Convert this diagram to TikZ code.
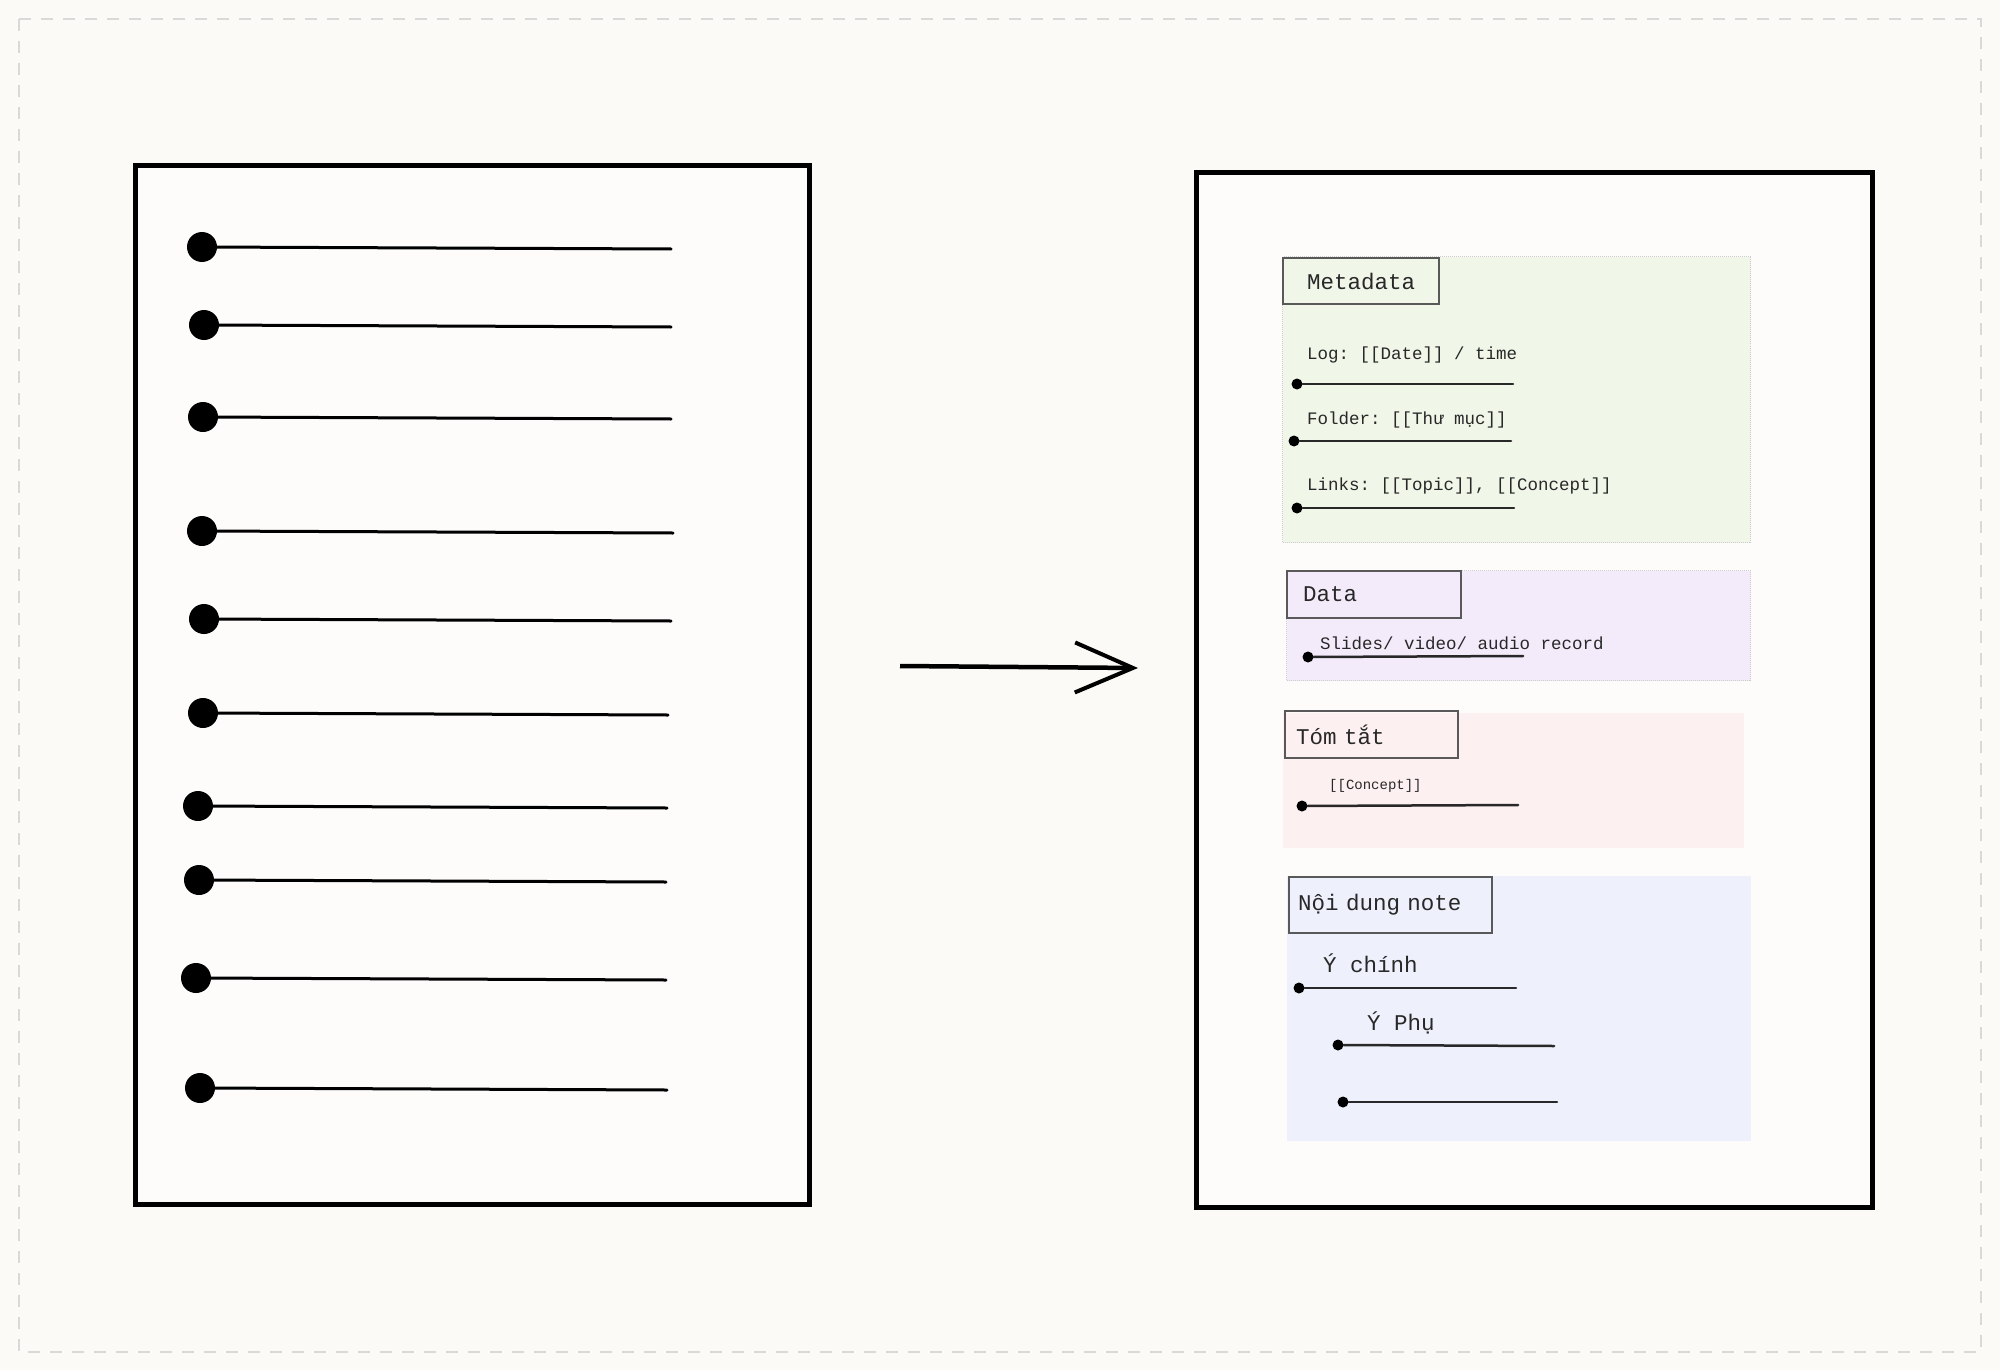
\documentclass[tikz,border=0pt]{standalone}
\usepackage{fontspec}
\setmonofont{Liberation Mono}
\usetikzlibrary{arrows.meta}
\definecolor{paper}{RGB}{251,250,246}
\definecolor{sheet}{RGB}{253,252,250}
\definecolor{ink}{RGB}{40,40,40}
\definecolor{greenbg}{RGB}{240,246,232}
\definecolor{purplebg}{RGB}{243,234,250}
\definecolor{pinkbg}{RGB}{253,240,240}
\definecolor{bluebg}{RGB}{238,241,252}
\begin{document}
\begin{tikzpicture}[x=1pt,y=-1pt,
    page/.style={draw=black,line width=5pt,fill=sheet,anchor=north west,inner sep=0pt},
    blob/.style={circle,fill=black,minimum size=30pt,inner sep=0pt},
    pt/.style={circle,fill=black,minimum size=11pt,inner sep=0pt},
    bline/.style={line width=3pt,line cap=round},
    sline/.style={line width=2.5pt,draw=ink,line cap=round},
    sect/.style={draw=black!20,densely dotted,line width=1pt,anchor=north west,inner sep=0pt},
    lbl/.style={draw=black!65,line width=2pt,anchor=north west,align=left,text=ink,
      font=\ttfamily\fontsize{22.5}{26}\selectfont},
    item/.style={anchor=west,inner sep=0pt,text=ink,font=\ttfamily\fontsize{17.5}{21}\selectfont},
    big/.style={anchor=west,inner sep=0pt,text=ink,font=\ttfamily\fontsize{22.5}{26}\selectfont}]
  \useasboundingbox (0,0) rectangle (2000,1370);
  \fill[paper] (0,0) rectangle (2000,1370);
  \draw[black!15,line width=1.5pt,dash pattern=on 12pt off 10pt] (19,19) rectangle (1981,1352);

  % left sheet
  \node[page,minimum width=674pt,minimum height=1039pt] (left) at (133,163) {};
  \foreach \i/\x/\y/\e in {1/202/247/671, 2/204/325/671, 3/203/417/671, 4/202/531/673,
      5/204/619/671, 6/203/713/668, 7/198/806/667, 8/199/880/666, 9/196/978/666, 10/200/1088/667} {
    \node[blob] (b\i) at (\x,\y) {};
    \coordinate (e\i) at (\e,\y+2);
    \draw[bline] (b\i) -- (e\i);
  }

  % arrow
  \coordinate (as) at (900,666);
  \coordinate (ae) at (1138,668);
  \draw[line width=4.5pt,-{Straight Barb[length=58pt,width=50pt,line width=4pt]}] (as) -- (ae);

  % right sheet
  \node[page,minimum width=676pt,minimum height=1035pt] (right) at (1194,170) {};

  % metadata
  \node[sect,fill=greenbg,minimum width=468pt,minimum height=286pt] (meta) at (1282,256) {};
  \node[lbl,inner xsep=24pt,text width=108pt,minimum height=46pt] (metalbl) at (1282,257) {\mbox{Metadata}};
  \node[item] (log) at (1307,355) {Log: [[Date]] / time};
  \node[item] (folder) at (1307,420) {Folder: [[Thư mục]]};
  \node[item] (links) at (1307,486) {Links: [[Topic]], [[Concept]]};
  \node[pt] (m1) at (1297,384) {};  \coordinate (m1e) at (1513,384);
  \node[pt] (m2) at (1294,441) {};  \coordinate (m2e) at (1511,441);
  \node[pt] (m3) at (1297,508) {};  \coordinate (m3e) at (1514,508);
  \draw[sline] (m1) -- (m1e);
  \draw[sline] (m2) -- (m2e);
  \draw[sline] (m3) -- (m3e);

  % data
  \node[sect,fill=purplebg,minimum width=464pt,minimum height=110pt] (data) at (1286,570) {};
  \node[lbl,inner xsep=16pt,text width=142pt,minimum height=47pt] (datalbl) at (1286,570) {\mbox{Data}};
  \node[item] (slides) at (1320,643) {Slides/ video/ audio record};
  \node[pt] (d1) at (1308,657) {};  \coordinate (d1e) at (1523,656);
  \draw[sline] (d1) -- (d1e);

  % tom tat
  \node[sect,draw=none,fill=pinkbg,minimum width=461pt,minimum height=135pt] (tom) at (1282,712) {};
  \node[lbl,inner xsep=11pt,text width=151pt,minimum height=47pt] (tomlbl) at (1284,710) {\mbox{Tóm tắt}};
  \node[item,font=\ttfamily\fontsize{14}{17}\selectfont] (concept) at (1329,786) {[[Concept]]};
  \node[pt] (t1) at (1302,806) {};  \coordinate (t1e) at (1518,805);
  \draw[sline] (t1) -- (t1e);

  % noi dung
  \node[sect,draw=none,fill=bluebg,minimum width=464pt,minimum height=265pt] (noi) at (1286,875) {};
  \node[lbl,inner xsep=9pt,text width=185pt,minimum height=56pt] (noilbl) at (1288,876) {\mbox{Nội dung note}};
  \node[big] (chinh) at (1323,963) {Ý chính};
  \node[big] (phu) at (1367,1023) {Ý Phụ};
  \node[pt] (n1) at (1299,988) {};   \coordinate (n1e) at (1516,988);
  \node[pt] (n2) at (1338,1045) {};  \coordinate (n2e) at (1554,1046);
  \node[pt] (n3) at (1343,1102) {};  \coordinate (n3e) at (1557,1102);
  \draw[sline] (n1) -- (n1e);
  \draw[sline] (n2) -- (n2e);
  \draw[sline] (n3) -- (n3e);
\end{tikzpicture}
\end{document}
